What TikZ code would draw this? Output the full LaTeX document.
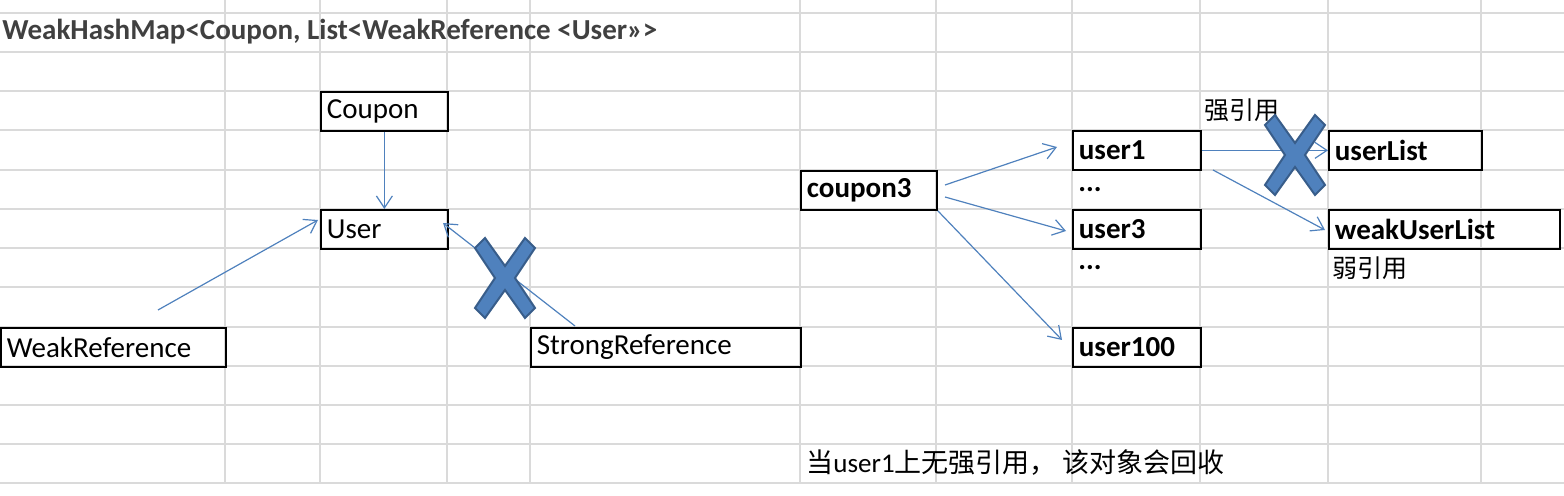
\documentclass[tikz,border=0pt]{standalone}
\usepackage{fontspec}
\setmainfont{Carlito}
\newfontfamily\cjk{Noto Sans CJK SC}
\usetikzlibrary{arrows.meta}
\definecolor{linkblue}{RGB}{79,129,189}
\definecolor{crossedge}{RGB}{56,93,138}
\definecolor{gridgray}{RGB}{218,218,218}

\begin{document}
\begin{tikzpicture}[
        x=1pt, y=-1pt,
        font=\fontsize{14.5}{16}\selectfont,
        box/.style = {draw, line width=0.9pt, anchor=north west, minimum height=19.5pt, inner xsep=3pt, inner ysep=0pt, align=left},
        link/.style = {draw=linkblue, line width=0.6pt, -{Straight Barb[length=6pt,width=8pt]}},
        cross/.style = {fill=linkblue, draw=crossedge, line width=1pt}
    ]
    \useasboundingbox (0,0) rectangle (782,248);
    % sheet grid
    \foreach \gy in {6.5,26,45.5,65,85,104.5,124,143.5,163.5,183,202.5,222,241.5}
        \draw[gridgray, line width=0.8pt] (0,\gy) -- (782,\gy);
    \foreach \gx in {112.5,160,223.5,265,400,468,536,600,664,740.5}
        \draw[gridgray, line width=0.8pt] (\gx,0) -- (\gx,241.5);
    \node[anchor=west, font=\fontsize{14.5}{16}\selectfont\bfseries, text=black!75, inner sep=1pt] (title) at (0,16) {WeakHashMap<Coupon, List<WeakReference <User>>>};
    % left part
    \node[box, text width=57.5pt] (coupon) at (160,45.5) {Coupon};
    \node[box, text width=57.5pt] (user) at (160,104.5) {User};
    \node[box, text width=106.5pt] (weakref) at (0,163.5) {WeakReference};
    \node[box, text width=129pt] (strongref) at (265,163.5) {StrongReference};
    \coordinate (wtail) at (79,155);
    \coordinate (whead) at (159,110);
    \coordinate (stail) at (287.5,163);
    \coordinate (shead) at (221.5,111.5);
    \draw[link] (coupon.south) -- (user.north);
    \draw[link] (wtail) -- (whead);
    \draw[link] (stail) -- (shead);
    % right part
    \begin{scope}[font=\fontsize{14.5}{16}\selectfont\bfseries]
        \node[box, text width=62pt] (coupon3) at (400,85) {coupon3};
        \node[box, text width=58pt] (user1) at (536,65) {user1};
        \node[box, text width=58pt] (user3) at (536,104.5) {user3};
        \node[box, text width=58pt] (user100) at (536,163.5) {user100};
        \node[box, text width=70.5pt] (userlist) at (664,65) {userList};
        \node[box, text width=109.5pt] (weakuserlist) at (664,104.5) {weakUserList};
        \node[anchor=west, inner sep=0pt] (dots1) at (539,95) {...};
        \node[anchor=west, inner sep=0pt] (dots2) at (539,134) {...};
    \end{scope}
    \node[anchor=west, inner sep=0pt, font=\cjk\fontsize{12.5}{14}\selectfont] (strong) at (602,55) {强引用};
    \node[anchor=west, inner sep=0pt, font=\cjk\fontsize{12.5}{14}\selectfont] (weak) at (666,134) {弱引用};
    \node[anchor=west, inner sep=0pt, font=\fontsize{13.5}{15}\selectfont] (note) at (403,231.5) {{\cjk 当}user1{\cjk 上无强引用，\ 该对象会回收}};
    \coordinate (c3a) at (472.5,92.5);
    \coordinate (c3b) at (472.5,98.5);
    \coordinate (u1a) at (606.5,85);
    \draw[link] (c3a) -- (528.5,73.5);
    \draw[link] (c3b) -- (533,115.5);
    \draw[link] (coupon3.south east) -- (531,170);
    \draw[link] (user1.east) -- (userlist.west);
    \draw[link] (u1a) -- (662.5,115);
    % crosses
    \foreach \cx/\cy in {252.5/139, 647.5/77.5}
        \draw[cross, shift={(\cx,\cy)}] (-15,-15) -- (-10,-20) -- (0,-6) -- (10,-20) -- (15,-15) -- (5,0)
            -- (15,15) -- (10,20) -- (0,6) -- (-10,20) -- (-15,15) -- (-5,0) -- cycle;
\end{tikzpicture}
\end{document}
